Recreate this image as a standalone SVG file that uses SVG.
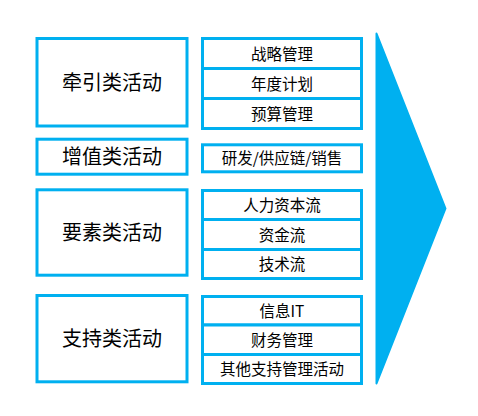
<svg xmlns="http://www.w3.org/2000/svg" width="478" height="416" viewBox="0 0 478 416">
<style>
.b{fill:#fff;stroke:#00B0F0;stroke-width:3}
.L{font-family:"Noto Sans CJK SC","Microsoft YaHei",sans-serif;font-size:20px;fill:#000;text-anchor:middle;dominant-baseline:central}
.S{font-family:"Noto Sans CJK SC","Microsoft YaHei",sans-serif;font-size:15.5px;fill:#000;text-anchor:middle;dominant-baseline:central}
</style>
<rect width="478" height="416" fill="#fff"/>
<g id="arrow"><polygon points="376.5,33.5 445.5,208.5 376.5,383.5" fill="#00B0F0" stroke="#00B0F0" stroke-width="2" stroke-linejoin="round"/></g>
<g id="traction">
<rect class="b" x="37" y="38.5" width="150" height="87.5"/>
<text class="L" x="112" y="81">牵引类活动</text>
</g>
<g id="traction-items">
<rect class="b" x="202.5" y="38.5" width="159" height="30"/>
<text class="S" x="282" y="52.5">战略管理</text>
<rect class="b" x="202.5" y="68.5" width="159" height="30"/>
<text class="S" x="282" y="82.5">年度计划</text>
<rect class="b" x="202.5" y="98.5" width="159" height="30"/>
<text class="S" x="282" y="112.5">预算管理</text>
</g>
<g id="value">
<rect class="b" x="37" y="139.2" width="150" height="35"/>
<text class="L" x="112" y="155.7">增值类活动</text>
</g>
<g id="value-items">
<rect class="b" x="202.5" y="144.8" width="159" height="27"/>
<text class="S" x="282" y="157.3">研发/供应链/销售</text>
</g>
<g id="factor">
<rect class="b" x="37" y="189.8" width="150" height="85.4"/>
<text class="L" x="112" y="231.5">要素类活动</text>
</g>
<g id="factor-items">
<rect class="b" x="202.5" y="190.5" width="159" height="29"/>
<text class="S" x="282" y="204">人力资本流</text>
<rect class="b" x="202.5" y="219.5" width="159" height="30"/>
<text class="S" x="282" y="233.5">资金流</text>
<rect class="b" x="202.5" y="249.5" width="159" height="29"/>
<text class="S" x="282" y="263">技术流</text>
</g>
<g id="support">
<rect class="b" x="37" y="295.5" width="150" height="86.3"/>
<text class="L" x="112" y="337.6">支持类活动</text>
</g>
<g id="support-items">
<rect class="b" x="202.5" y="296.5" width="159" height="28.5"/>
<text class="S" x="282" y="309.7">信息IT</text>
<rect class="b" x="202.5" y="325" width="159" height="29.5"/>
<text class="S" x="282" y="338.7">财务管理</text>
<rect class="b" x="202.5" y="354.5" width="159" height="29"/>
<text class="S" x="282" y="368">其他支持管理活动</text>
</g>
<g id="connectors"></g>
</svg>
